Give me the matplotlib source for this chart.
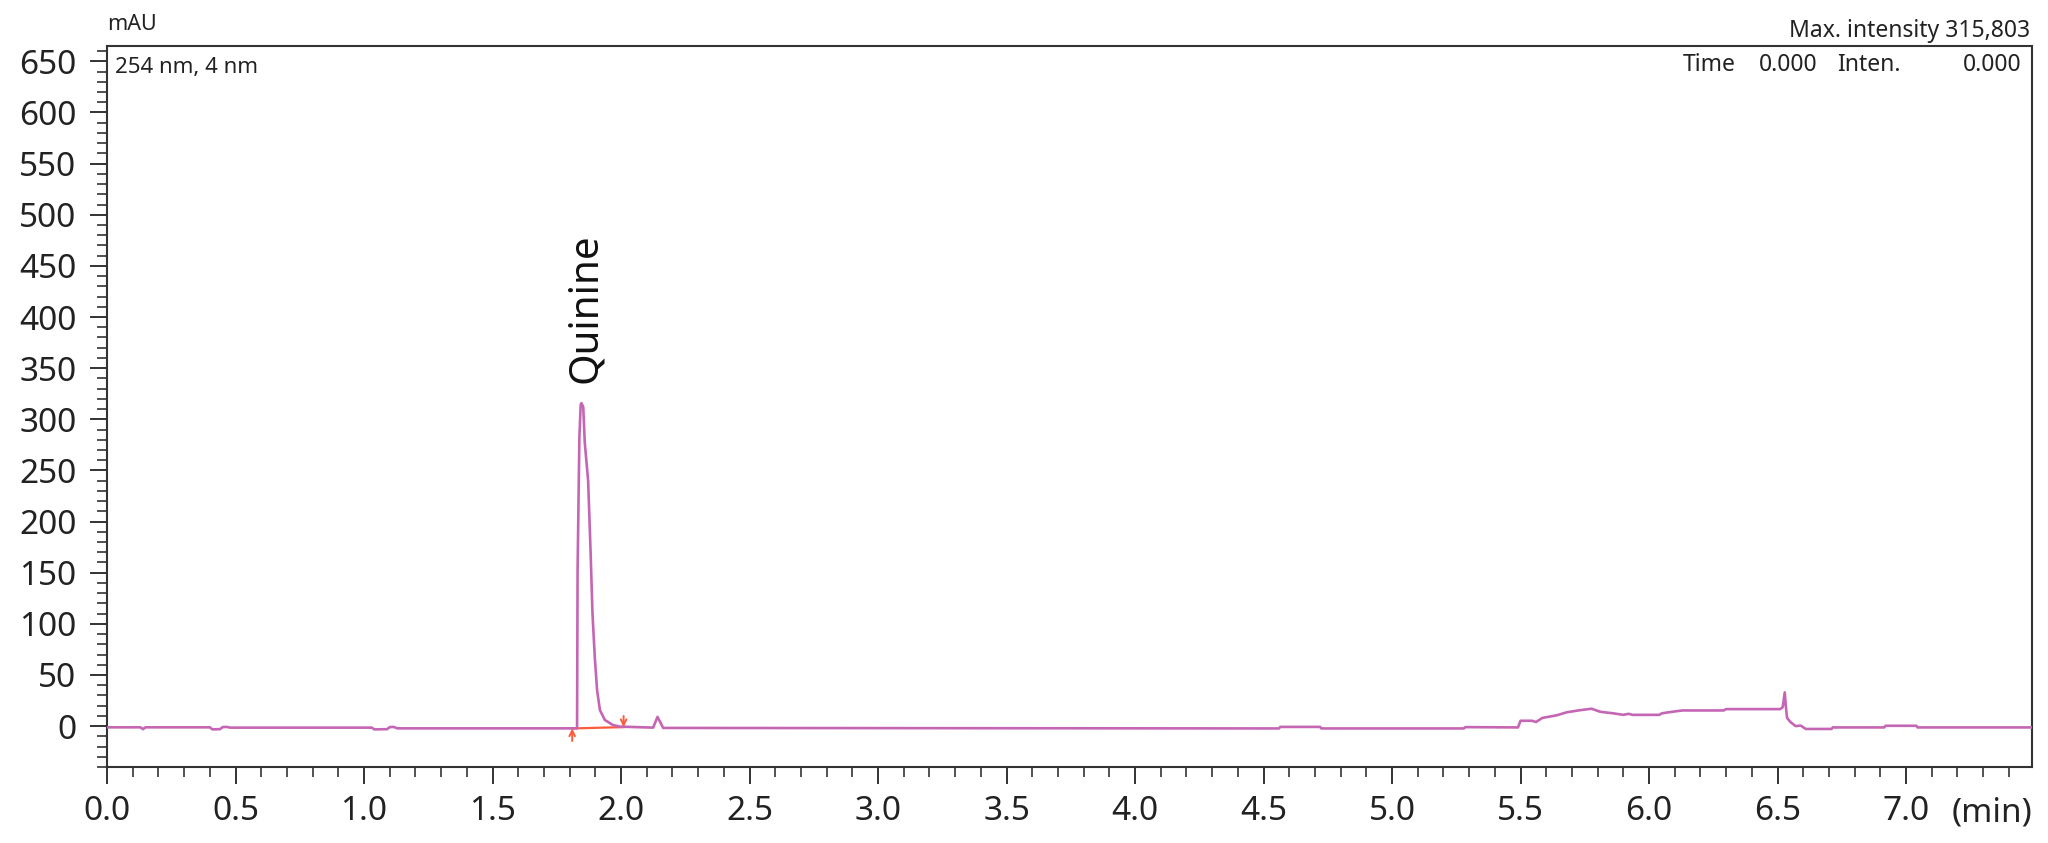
import matplotlib
matplotlib.use("Agg")
import matplotlib.pyplot as plt
from matplotlib.ticker import MultipleLocator, FormatStrFormatter
from matplotlib.transforms import blended_transform_factory, ScaledTranslation

plt.rcParams['font.family'] = ['Noto Sans', 'DejaVu Sans']

# ---- data ----
time_min = [0.00, 0.13, 0.14, 0.15, 0.40, 0.41, 0.44, 0.45, 0.465, 0.48,
            1.03, 1.04, 1.09, 1.10, 1.115, 1.13, 1.829, 1.831, 1.838, 1.843,
            1.846, 1.853, 1.859, 1.872, 1.881, 1.889, 1.898, 1.907, 1.918,
            1.937, 1.969, 1.995, 2.125, 2.142, 2.164, 4.56, 4.565, 4.72,
            4.725, 5.28, 5.285, 5.49, 5.50, 5.545, 5.56, 5.585, 5.64, 5.68,
            5.73, 5.776, 5.81, 5.86, 5.90, 5.92, 5.935, 6.04, 6.05, 6.09,
            6.13, 6.29, 6.30, 6.51, 6.52, 6.528, 6.532, 6.537, 6.55, 6.57,
            6.59, 6.61, 6.71, 6.715, 6.915, 6.92, 7.04, 7.045, 7.49]
intensity = [-1.2, -1.2, -3.0, -1.2, -1.2, -3.2, -3.0, -1.0, -0.8, -1.5,
             -1.5, -3.2, -3.0, -1.0, -0.8, -2.2, -2.2, 152.0, 282.0, 314.0,
             315.8, 312.0, 277.0, 240.0, 175.0, 110.0, 67.0, 35.0, 15.6,
             6.0, 1.0, -0.5, -1.5, 9.0, -1.8, -2.3, -0.8, -0.8,
             -2.3, -2.3, -1.0, -1.3, 5.2, 5.2, 4.0, 8.0, 10.5, 13.5,
             15.5, 17.0, 14.0, 12.5, 11.0, 12.0, 11.0, 11.0, 12.5, 14.0,
             15.3, 15.3, 16.6, 16.6, 18.5, 33.0, 20.0, 8.0, 4.0, 0.0,
             0.5, -2.8, -2.8, -1.3, -1.3, 0.3, 0.3, -1.3, -1.3]

baseline_t = [1.81, 2.01]
baseline_v = [-2.3, -1.0]

peak_name = "Quinine"
peak_label_pos = (1.863, 335)

xticks_major = 0.5
yticks_major = 50

# ---- figure ----
fig = plt.figure(figsize=(20.48, 8.43), dpi=100)
ax = fig.add_axes([107/2048, 1-767/843, (2032-107)/2048, (767-46)/843])

trace_color = '#c566b5'
base_color = '#ff5a3c'
txt = '#222222'

ax.plot(time_min, intensity, color=trace_color, lw=1.9, solid_joinstyle='round', zorder=3)
ax.plot(baseline_t, baseline_v, color=base_color, lw=1.6, zorder=2)

# peak start / end arrows
ax.annotate('', xy=(baseline_t[0], baseline_v[0]), xytext=(0, -9), textcoords='offset points',
            arrowprops=dict(arrowstyle='->', color=base_color, lw=1.4, shrinkA=0, shrinkB=0,
                            mutation_scale=10), zorder=4)
ax.annotate('', xy=(baseline_t[1], baseline_v[1]), xytext=(0, 8), textcoords='offset points',
            arrowprops=dict(arrowstyle='->', color=base_color, lw=1.4, shrinkA=0, shrinkB=0,
                            mutation_scale=10), zorder=4)

ax.text(peak_label_pos[0], peak_label_pos[1], peak_name, rotation=90, ha='center', va='bottom',
        fontsize=29, color='#111111')

ax.set_xlim(0, 7.49)
ax.set_ylim(-40, 665)

ax.xaxis.set_major_locator(MultipleLocator(xticks_major))
ax.xaxis.set_minor_locator(MultipleLocator(0.1))
ax.xaxis.set_major_formatter(FormatStrFormatter('%.1f'))
ax.yaxis.set_major_locator(MultipleLocator(yticks_major))
ax.yaxis.set_minor_locator(MultipleLocator(10))

ax.tick_params(axis='both', which='major', length=12, width=1.4, color='#333333',
               labelsize=24, labelcolor=txt)
ax.tick_params(axis='both', which='minor', length=7, width=1.2, color='#333333')
ax.tick_params(axis='x', which='major', pad=8)
ax.tick_params(axis='y', which='major', pad=10)

for s in ax.spines.values():
    s.set_color('#333333')
    s.set_linewidth(1.5)

# x-axis unit label
trans = blended_transform_factory(ax.transData, ax.transAxes) + \
    ScaledTranslation(0, -0.30, fig.dpi_scale_trans)
ax.text(7.335, 0, '(min)', transform=trans, ha='center', va='top', fontsize=24, color=txt)

fig.text(107/2048, 1-25/843, 'mAU', ha='left', va='center', fontsize=15.5, color=txt)
fig.text(115/2048, 1-67/843, '254 nm, 4 nm', ha='left', va='center', fontsize=16, color=txt)
fig.text(2030/2048, 1-31/843, 'Max. intensity 315,803', ha='right', va='center', fontsize=16.5,
         color=txt)
fig.text(1683/2048, 1-65/843, 'Time', ha='left', va='center', fontsize=16.5, color=txt)
fig.text(1818/2048, 1-65/843, '0.000', ha='right', va='center', fontsize=16.5, color=txt)
fig.text(1837/2048, 1-65/843, 'Inten.', ha='left', va='center', fontsize=16.5, color=txt)
fig.text(2021/2048, 1-65/843, '0.000', ha='right', va='center', fontsize=16.5, color=txt)

fig.savefig('out.png', dpi=100, facecolor='white')
